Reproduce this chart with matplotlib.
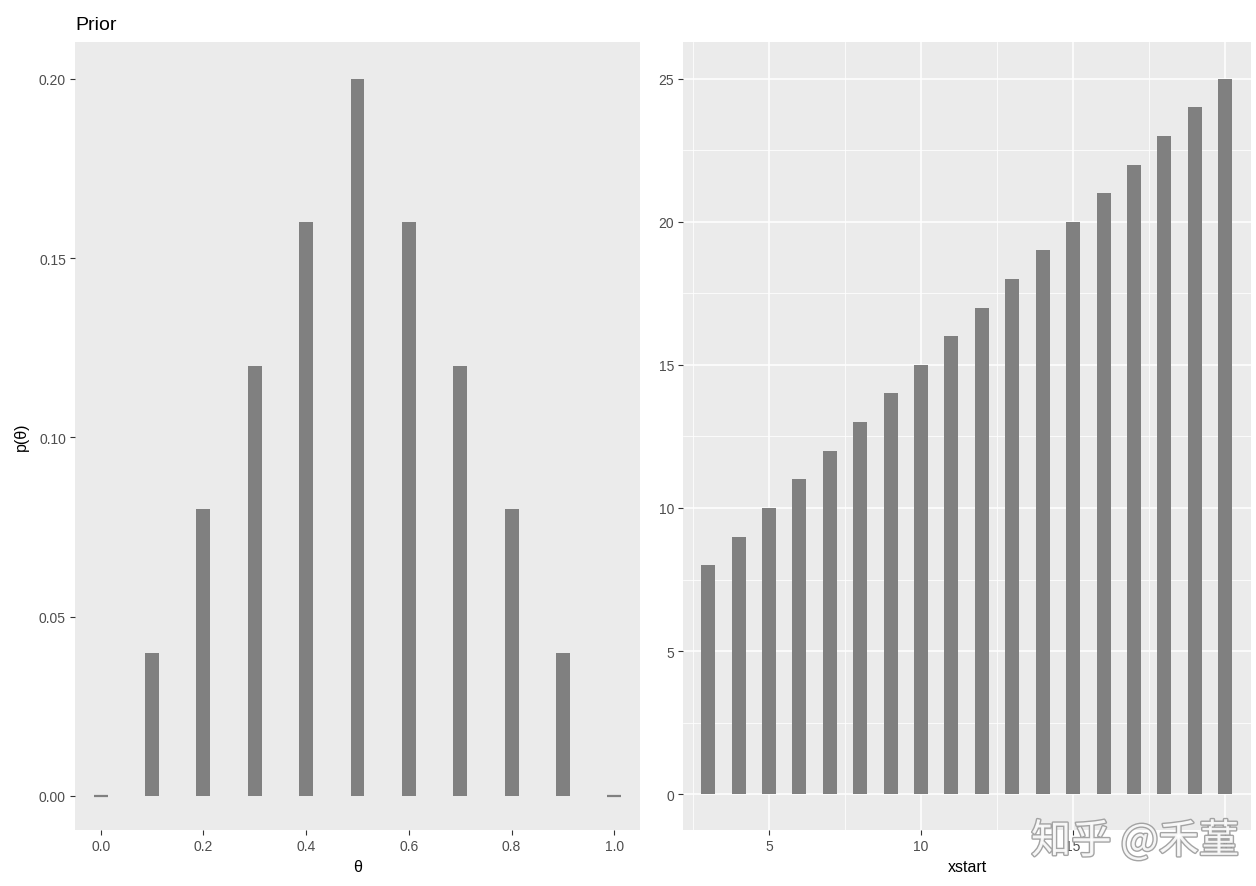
import matplotlib
matplotlib.use("Agg")
import matplotlib.pyplot as plt
import matplotlib.patheffects as pe
import numpy as np

# ---- data ----
theta = [0.0, 0.1, 0.2, 0.3, 0.4, 0.5, 0.6, 0.7, 0.8, 0.9, 1.0]
p_theta = [0.0, 0.04, 0.08, 0.12, 0.16, 0.20, 0.16, 0.12, 0.08, 0.04, 0.0]
left_xticks = [0.0, 0.2, 0.4, 0.6, 0.8, 1.0]
left_xticklabels = ["0.0", "0.2", "0.4", "0.6", "0.8", "1.0"]
left_yticks = [0.00, 0.05, 0.10, 0.15, 0.20]
left_yticklabels = ["0.00", "0.05", "0.10", "0.15", "0.20"]

xstart = [3, 4, 5, 6, 7, 8, 9, 10, 11, 12, 13, 14, 15, 16, 17, 18, 19, 20]
yvals = [8, 9, 10, 11, 12, 13, 14, 15, 16, 17, 18, 19, 20, 21, 22, 23, 24, 25]
right_xticks = [5, 10, 15, 20]
right_yticks = [0, 5, 10, 15, 20, 25]

plt.rcParams['font.family'] = ['Liberation Sans', 'DejaVu Sans']

W, H = 1256, 887
fig = plt.figure(figsize=(W / 100, H / 100), dpi=100)

def ax_px(x0, y0, x1, y1):
    return fig.add_axes([x0 / W, (H - y1) / H, (x1 - x0) / W, (y1 - y0) / H])

panel_bg = "#EBEBEB"
bar_col = "#808080"
tick_col = "#4D4D4D"

def style(ax):
    ax.set_facecolor(panel_bg)
    for s in ax.spines.values():
        s.set_visible(False)
    ax.tick_params(axis='both', which='major', length=3.5, width=0.8,
                   color="#333333", labelcolor=tick_col, labelsize=10, pad=3)
    ax.tick_params(axis='both', which='minor', length=0)

# ---- left panel ----
ax1 = ax_px(75, 43, 640, 831)
style(ax1)
ax1.bar(theta, p_theta, width=0.027, color=bar_col, linewidth=0)
# zero-valued bars appear as thin horizontal strokes
for t, v in zip(theta, p_theta):
    if v == 0:
        ax1.hlines(v, t - 0.0135, t + 0.0135, color=bar_col, linewidth=1.6)
ax1.set_xlim(-0.05, 1.05)
ax1.set_ylim(-0.0095, 0.2103)
ax1.set_xticks(left_xticks)
ax1.set_xticklabels(left_xticklabels)
ax1.set_yticks(left_yticks)
ax1.set_yticklabels(left_yticklabels)
ax1.set_xlabel("θ", fontsize=11.5, color="black", labelpad=4)
ax1.set_ylabel("p(θ)", fontsize=11.5, color="black", labelpad=7)
ax1.set_title("Prior", loc="left", fontsize=14, color="black", pad=9)

# ---- right panel ----
ax2 = ax_px(683, 43, 1251, 831)
style(ax2)
ax2.set_axisbelow(True)
ax2.bar(xstart, yvals, width=0.46, color=bar_col, linewidth=0, zorder=3)
ax2.set_xlim(2.17, 20.85)
ax2.set_ylim(-1.25, 26.28)
ax2.set_xticks(right_xticks)
ax2.set_yticks(right_yticks)
ax2.set_xticks([2.5, 7.5, 12.5, 17.5], minor=True)
ax2.set_yticks([2.5, 7.5, 12.5, 17.5, 22.5], minor=True)
ax2.grid(which='major', color='white', linewidth=1.1, zorder=0)
ax2.grid(which='minor', color='white', linewidth=0.55, zorder=0)
ax2.set_xlabel("xstart", fontsize=11.5, color="black", labelpad=4)

# ---- watermark ----
fig.text(1135 / W, (H - 842) / H, "知乎 @禾蓳", fontsize=29,
         family=['Noto Sans CJK SC', 'DejaVu Sans'],
         color="white", alpha=0.9, ha="center", va="center",
         path_effects=[pe.withStroke(linewidth=2, foreground="#9A9A9A")])

fig.savefig("out.png", dpi=100)
